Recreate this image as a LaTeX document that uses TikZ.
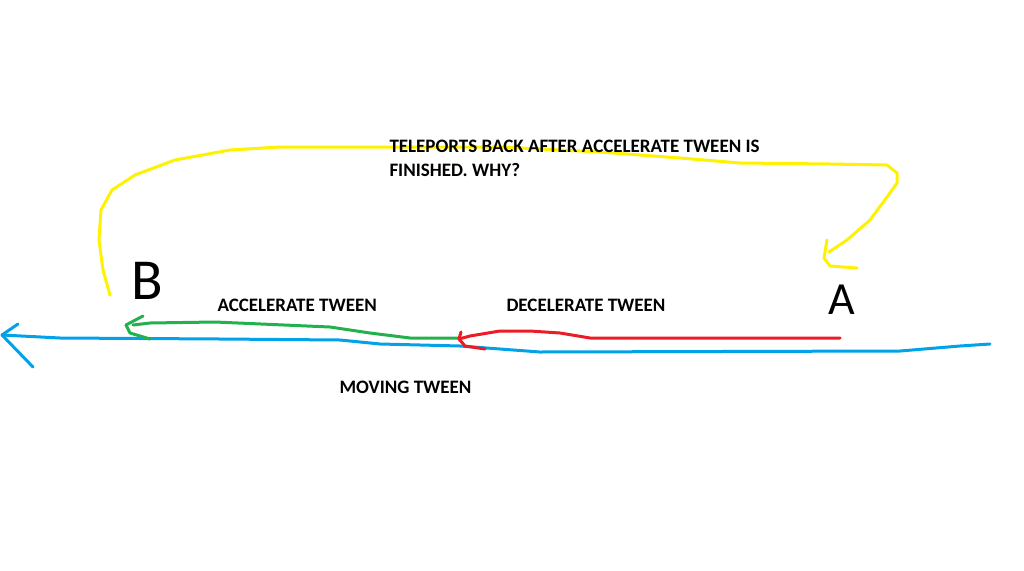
\documentclass[tikz,border=0pt]{standalone}
\usepackage{fontspec}
\setmainfont{Carlito}
\usetikzlibrary{positioning}
\definecolor{paintblue}{RGB}{0,162,232}
\definecolor{paintgreen}{RGB}{34,177,76}
\definecolor{paintred}{RGB}{237,28,36}
\definecolor{paintyellow}{RGB}{255,242,0}

\begin{document}
\begin{tikzpicture}[x=1pt,y=-1pt,line width=3pt,line cap=round,line join=round,
    lbl/.style={font=\bfseries\fontsize{19}{23}\selectfont,anchor=base west,inner sep=0pt},
    letter/.style={font=\fontsize{50}{50}\selectfont,inner sep=0pt}]
          \useasboundingbox[fill=white] (0, 0) rectangle (1024, 570);
          \node[letter,font=\fontsize{58}{58}\selectfont] (B) at (147, 281) {B};
          \node[letter,font=\fontsize{46}{46}\selectfont] (A) at (842, 300) {A};
          \coordinate (bluestart) at (990, 344);
          \coordinate (bluetip) at (2, 335);
          \coordinate (greenstart) at (460, 338);
          \coordinate (greentip) at (126, 325);
          \coordinate (redstart) at (840, 338);
          \coordinate (redtip) at (459, 339);
          \coordinate (yellowstart) at (110, 295);
          \coordinate (yellowtip) at (829, 252);
          \draw[paintyellow] (yellowstart) -- (103, 270) -- (99, 240) -- (101, 210) -- (112, 190) -- (135, 175) -- (175, 160) -- (230, 150) -- (280, 147) -- (500, 147) -- (600, 152) -- (680, 158) -- (740, 163) -- (830, 164) -- (887, 165) -- (897, 173) -- (897, 183) -- (887, 197) -- (870, 220) -- (847, 240) -- (yellowtip);
          \draw[paintyellow] (yellowtip) ++(-2, -12) -- ++(-3, 18) -- ++(6, 8) -- ++(27, 2);
          \node[lbl] (teleport) at (388, 152) {TELEPORTS BACK AFTER ACCELERATE TWEEN IS};
          \node[lbl] (why) at (388, 176) {FINISHED. WHY?};
          \node[lbl] (accel) at (216, 311) {ACCELERATE TWEEN};
          \node[lbl] (decel) at (505, 311) {DECELERATE TWEEN};
          \node[lbl] (moving) at (338, 393) {MOVING TWEEN};
          \draw[paintblue] (bluestart) -- (960, 346) -- (900, 351) -- (540, 352) -- (500, 349) -- (460, 346) -- (380, 344) -- (340, 340) -- (220, 339) -- (60, 338) -- (bluetip);
          \draw[paintblue] (bluetip) -- ++(16, -11);
          \draw[paintblue] (bluetip) -- ++(31, 32);
          \draw[paintgreen] (greenstart) -- (410, 338) -- (370, 333) -- (330, 327) -- (215, 322) -- (150, 323) -- (133, 325);
          \draw[paintgreen] (greentip) -- ++(17, -9);
          \draw[paintgreen] (greentip) -- ++(4, 8) -- ++(20, 6);
          \draw[paintred] (redstart) -- (590, 338) -- (560, 333) -- (530, 331) -- (500, 331) -- (470, 336) -- (redtip);
          \draw[paintred] (redtip) -- ++(2, -7);
          \draw[paintred] (redtip) -- ++(6, 7) -- ++(20, 3);
        \end{tikzpicture}
\end{document}
